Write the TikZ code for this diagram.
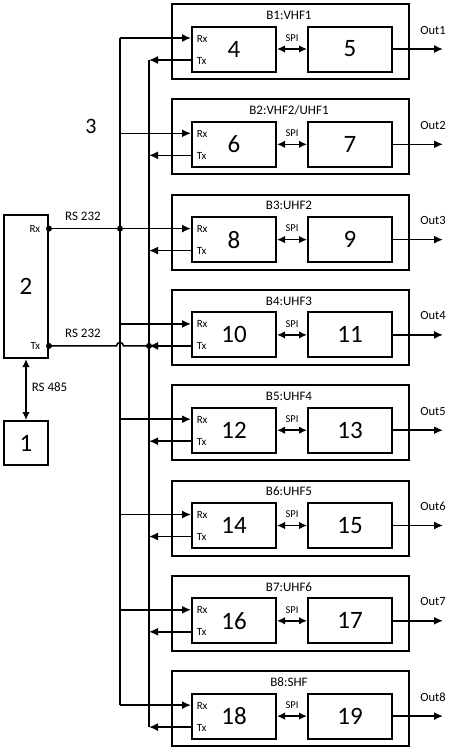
\documentclass[tikz,border=0pt]{standalone}
\usepackage{fontspec}
\setmainfont{Carlito}
\usetikzlibrary{arrows.meta,calc}
\begin{document}
\begin{tikzpicture}[x=1pt,y=-1pt,
  line width=1.5pt,
  tip/.style={-{Latex[length=9pt,width=8pt]}},
  dtip/.style={{Latex[length=8pt,width=7.5pt]}-{Latex[length=8pt,width=7.5pt]}},
  outer/.style={draw,line width=2.1pt,minimum width=237pt,minimum height=75pt,inner sep=0pt,anchor=north west},
  inner/.style={draw,line width=2pt,minimum width=84pt,minimum height=45pt,inner sep=0pt,font=\fontsize{25}{27}\selectfont},
  ttl/.style={font=\fontsize{13}{15}\selectfont,inner sep=0pt},
  rxtx/.style={font=\fontsize{11}{13}\selectfont,inner sep=0pt,anchor=west},
  spi/.style={font=\fontsize{10.5}{12}\selectfont,inner sep=0pt},
  outl/.style={font=\fontsize{12.5}{14}\selectfont,inner sep=0pt},
  lbl/.style={font=\fontsize{13}{15}\selectfont,inner sep=0pt},
  big/.style={draw,line width=2pt,inner sep=0pt,font=\fontsize{25}{27}\selectfont},
  dot/.style={circle,fill,inner sep=0pt,minimum size=6pt}]
\useasboundingbox (0,0) rectangle (474,748);

\foreach \i/\name/\a/\b in {1/B1:VHF1/4/5,2/B2:VHF2\slash UHF1/6/7,3/B3:UHF2/8/9,4/B4:UHF3/10/11,5/B5:UHF4/12/13,6/B6:UHF5/14/15,7/B7:UHF6/16/17,8/B8:SHF/18/19}{
  \pgfmathsetmacro{\t}{3+(\i-1)*95.3}
  \node[outer] (O\i) at (171,\t) {};
  \node[ttl] (T\i) at (289,\t+12) {\name};
  \node[inner] (L\i) at (234,\t+46) {\a};
  \node[inner] (R\i) at (350,\t+46) {\b};
  \node[rxtx] (rxl\i) at (196,\t+35.5) {Rx};
  \node[rxtx] (txl\i) at (196,\t+57.5) {Tx};
  \node[spi] (S\i) at (292,\t+35) {SPI};
  \draw[dtip] (L\i) -- (R\i);
  \coordinate (oe\i) at (443,\t+46);
  \draw[tip] (R\i) -- (oe\i);
  \node[outl] (OL\i) at (433,\t+27) {Out\i};
  \coordinate (rx\i) at (120,\t+35);
  \coordinate (tx\i) at (149,\t+57);
  \draw[tip] (rx\i) -- (rx\i -| L\i.west);
  \draw[tip] (tx\i -| L\i.west) -- (tx\i);
}
\draw (rx1) -- (rx8);
\draw (tx1) -- (tx8);

% box 2
\node[big,minimum width=44pt,minimum height=143pt,anchor=north west] (B2) at (3,214) {2};
\node[rxtx,anchor=east] (rxb) at (41,229) {Rx};
\node[rxtx,anchor=east] (txb) at (41,346) {Tx};
\coordinate (b2rx) at (B2.east |- rx3);
\coordinate (b2tx) at (B2.east |- tx4);
\node[dot] at (b2rx) {};
\node[dot] at (b2tx) {};
\node[dot] at (rx3) {};
\node[dot] at (tx4) {};
\draw (b2rx) -- (rx3);
\coordinate (hop) at (rx1 |- tx4);
\draw (b2tx) -- ($(hop)-(3.5,0)$) arc[start angle=180,end angle=360,radius=3.5] -- (tx4);
\node[lbl] (rs1) at (83,216) {RS 232};
\node[lbl] (rs2) at (83,333) {RS 232};

% box 1
\node[big,minimum width=44pt,minimum height=44pt,anchor=north west] (B1) at (3,420) {1};
\draw[dtip] (B2.south -| B1) -- (B1.north);
\node[lbl,anchor=west] (rs485) at (31,387) {RS 485};

\node[inner sep=0pt,font=\fontsize{22}{24}\selectfont] (n3) at (91,126) {3};
\end{tikzpicture}
\end{document}
